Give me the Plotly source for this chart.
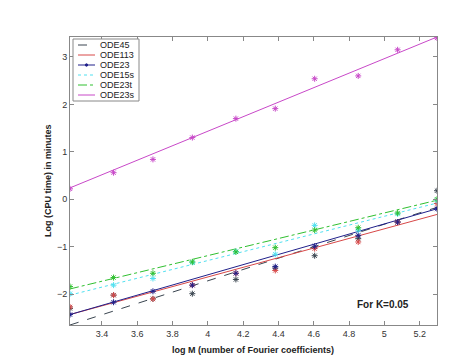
import numpy as np
import plotly.graph_objects as go

# Data
M = [25, 32, 40, 50, 64, 80, 100, 128, 160, 200]
logM = list(np.log(M))
x_ends = [np.log(25), np.log(200)]

ode45 = [-2.30, -2.02, -2.10, -1.99, -1.69, -1.45, -1.19, -0.83, -0.48, 0.18]
ode113 = [-2.27, -2.02, -2.10, -1.81, -1.56, -1.50, -1.04, -0.90, -0.48, -0.09]
ode23 = [-2.43, -2.17, -1.94, -1.81, -1.56, -1.42, -0.99, -0.76, -0.48, -0.20]
ode15s = [-1.99, -1.81, -1.67, -1.33, -1.10, -1.16, -0.55, -0.65, -0.31, -0.03]
ode23t = [-1.84, -1.65, -1.56, -1.32, -1.11, -1.02, -0.65, -0.60, -0.29, 0.00]
ode23s = [0.22, 0.56, 0.84, 1.30, 1.70, 1.91, 2.54, 2.60, 3.15, 3.40]

# fitted line end values
fit45 = [-2.65, -0.17]
fit113 = [-2.43, -0.32]
fit23 = [-2.43, -0.20]
fit15s = [-2.02, -0.08]
fit23t = [-1.89, -0.02]
fit23s = [0.24, 3.42]

names = ["ODE45", "ODE113", "ODE23", "ODE15s", "ODE23t", "ODE23s"]
colors = ["#3a4550", "#d84848", "#20208a", "#50e0f0", "#30c030", "#c848c8"]
dashes = ["dash", "solid", "solid", "dot", "dashdot", "solid"]
datas = [ode45, ode113, ode23, ode15s, ode23t, ode23s]
fits = [fit45, fit113, fit23, fit15s, fit23t, fit23s]

# plot-area geometry in pixels (for the hand-built legend)
W, H = 474, 355
L, R, T, B = 62, 45, 29, 38
PW, PH = W - L - R, H - T - B


def px(x):
    return (x - L) / PW


def py(y):
    return 1 - (y - T) / PH


fig = go.Figure()
for n, c, d, ys, f in zip(names, colors, dashes, datas, fits):
    mode = "lines+markers" if n == "ODE23" else "lines"
    fig.add_trace(go.Scatter(x=x_ends, y=f, mode=mode, name=n, showlegend=False,
                             line=dict(color=c, width=1, dash=d),
                             marker=dict(symbol="circle", size=3, color=c)))
for n, c, ys in zip(names, colors, datas):
    fig.add_trace(go.Scatter(x=logM, y=ys, mode="markers", showlegend=False,
                             marker=dict(symbol="asterisk-open", size=5,
                                         color=c, line=dict(color=c, width=1))))

# legend (box, line samples, labels)
fig.add_shape(type="rect", xref="paper", yref="paper",
              x0=px(65), x1=px(131), y0=py(93), y1=py(31),
              line=dict(color="#888888", width=1), fillcolor="white", layer="above")
for i, (n, c, d) in enumerate(zip(names, colors, dashes)):
    yy = 37 + 10 * i
    fig.add_shape(type="line", xref="paper", yref="paper",
                  x0=px(70), x1=px(87), y0=py(yy), y1=py(yy),
                  line=dict(color=c, width=1, dash=d), layer="above")
    if n == "ODE23":
        fig.add_shape(type="circle", xref="paper", yref="paper",
                      x0=px(77.3), x1=px(79.7), y0=py(yy - 1.2), y1=py(yy + 1.2),
                      line=dict(color=c, width=1), fillcolor=c, layer="above")
    fig.add_annotation(x=px(90), y=py(yy), xref="paper", yref="paper", showarrow=False,
                       text=n, font=dict(size=9, color="#222222"),
                       xanchor="left", yanchor="middle")

axis_common = dict(showline=True, linecolor="#888888", linewidth=1, mirror="ticks",
                   ticks="inside", ticklen=4, tickcolor="#888888", showgrid=False,
                   zeroline=False, tickfont=dict(size=9, color="#333333"))
fig.update_xaxes(range=[np.log(25), np.log(200)], tick0=3.4, dtick=0.2, **axis_common)
fig.update_yaxes(range=[-2.65, 3.42], tick0=0, dtick=1, **axis_common)

fig.add_annotation(x=px(403), y=py(296), xref="paper", yref="paper", showarrow=False,
                   text="<b>For K=0.05</b>", font=dict(size=10, color="#222222"),
                   xanchor="right", yanchor="middle")
fig.add_annotation(x=px(245), y=py(342), xref="paper", yref="paper", showarrow=False,
                   text="<b>log M (number of Fourier coefficients)</b>",
                   font=dict(size=9, color="#222222"), xanchor="center", yanchor="middle")
fig.add_annotation(x=px(40), y=py(173), xref="paper", yref="paper", showarrow=False,
                   text="<b>Log (CPU time) in minutes</b>", textangle=-90,
                   font=dict(size=9, color="#222222"), xanchor="center", yanchor="middle")

fig.update_layout(
    width=W, height=H,
    margin=dict(l=L, r=R, t=T, b=B),
    paper_bgcolor="white", plot_bgcolor="white",
    font=dict(family="Liberation Sans, Arial, sans-serif"),
    showlegend=False,
)

fig.write_html("out.html")
